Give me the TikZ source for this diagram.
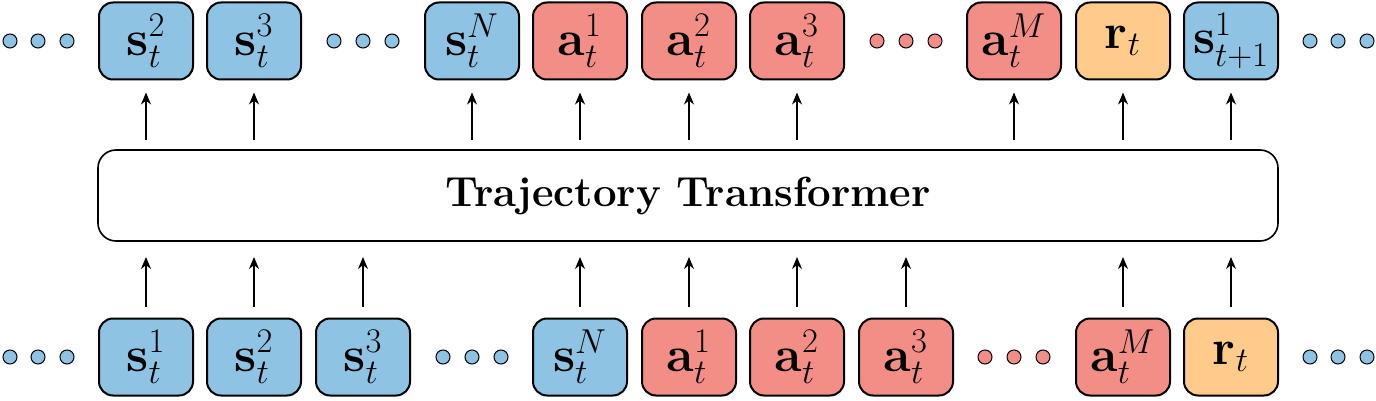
\documentclass[tikz,border=0pt]{standalone}
\usepackage{amsmath}
\usetikzlibrary{arrows.meta}
\begin{document}
\begin{tikzpicture}[x=0.5pt,y=-0.5pt,
  tok/.style={draw=black,line width=1pt,rounded corners=7pt,minimum width=47pt,minimum height=38.5pt,inner sep=0pt,font=\fontsize{23}{25}\selectfont},
  sb/.style={tok,fill=sblue}, ar/.style={tok,fill=ared}, rr/.style={tok,fill=rorange},
  dotb/.style={circle,draw=black,line width=0.5pt,fill=sblue,minimum size=7pt,inner sep=0pt},
  dotr/.style={dotb,fill=ared},
  arr/.style={-{Stealth[length=6pt,width=5pt]},line width=0.6pt}]
\definecolor{sblue}{HTML}{8EC3E3}
\definecolor{ared}{HTML}{F28E86}
\definecolor{rorange}{HTML}{FECB8A}
\useasboundingbox (0,0) rectangle (1376,401);
% transformer
\node[draw,line width=0.8pt,rounded corners=9pt,minimum width=590pt,minimum height=45.5pt,inner sep=0pt,font=\fontsize{21}{23}\selectfont\bfseries] (T) at (688,195.5) {Trajectory Transformer};
% top row
\foreach \n/\x in {l1/10,l2/38,l3/67,m1/334,m2/363,m3/392,r1/1310,r2/1338,r3/1367} \node[dotb] (t\n) at (\x,41) {};
\foreach \n/\x in {q1/877,q2/906,q3/935} \node[dotr] (t\n) at (\x,41) {};
\node[sb] (ts2) at (146,41) {$\mathbf{s}_t^2$};
\node[sb] (ts3) at (254,41) {$\mathbf{s}_t^3$};
\node[sb] (tsN) at (472,41) {$\mathbf{s}_t^N$};
\node[ar] (ta1) at (580,41) {$\mathbf{a}_t^1$};
\node[ar] (ta2) at (689,41) {$\mathbf{a}_t^2$};
\node[ar] (ta3) at (797,41) {$\mathbf{a}_t^3$};
\node[ar] (taM) at (1014,41) {$\mathbf{a}_t^M$};
\node[rr] (tr) at (1123,41) {$\mathbf{r}_t$};
\node[sb] (ts1n) at (1231,41) {$\mathbf{s}_{t+1}^1$};
\foreach \n/\x in {ts2/146,ts3/254,tsN/472,ta1/580,ta2/689,ta3/797,taM/1014,tr/1123,ts1n/1231} {
  \coordinate (o\n) at (\x,140);
  \draw[arr] (o\n) -- ([yshift=-6pt]\n.south);
}
% bottom row
\foreach \n/\x in {l1/10,l2/38,l3/67,m1/443,m2/472,m3/501,r1/1310,r2/1338,r3/1367} \node[dotb] (b\n) at (\x,357) {};
\foreach \n/\x in {q1/985,q2/1014,q3/1043} \node[dotr] (b\n) at (\x,357) {};
\node[sb] (bs1) at (146,357) {$\mathbf{s}_t^1$};
\node[sb] (bs2) at (254,357) {$\mathbf{s}_t^2$};
\node[sb] (bs3) at (363,357) {$\mathbf{s}_t^3$};
\node[sb] (bsN) at (580,357) {$\mathbf{s}_t^N$};
\node[ar] (ba1) at (689,357) {$\mathbf{a}_t^1$};
\node[ar] (ba2) at (797,357) {$\mathbf{a}_t^2$};
\node[ar] (ba3) at (906,357) {$\mathbf{a}_t^3$};
\node[ar] (baM) at (1123,357) {$\mathbf{a}_t^M$};
\node[rr] (br) at (1231,357) {$\mathbf{r}_t$};
\foreach \n/\x in {bs1/146,bs2/254,bs3/363,bsN/580,ba1/689,ba2/797,ba3/906,baM/1123,br/1231} {
  \coordinate (i\n) at (\x,257);
  \draw[arr] ([yshift=5.5pt]\n.north) -- (i\n);
}
\end{tikzpicture}
\end{document}
